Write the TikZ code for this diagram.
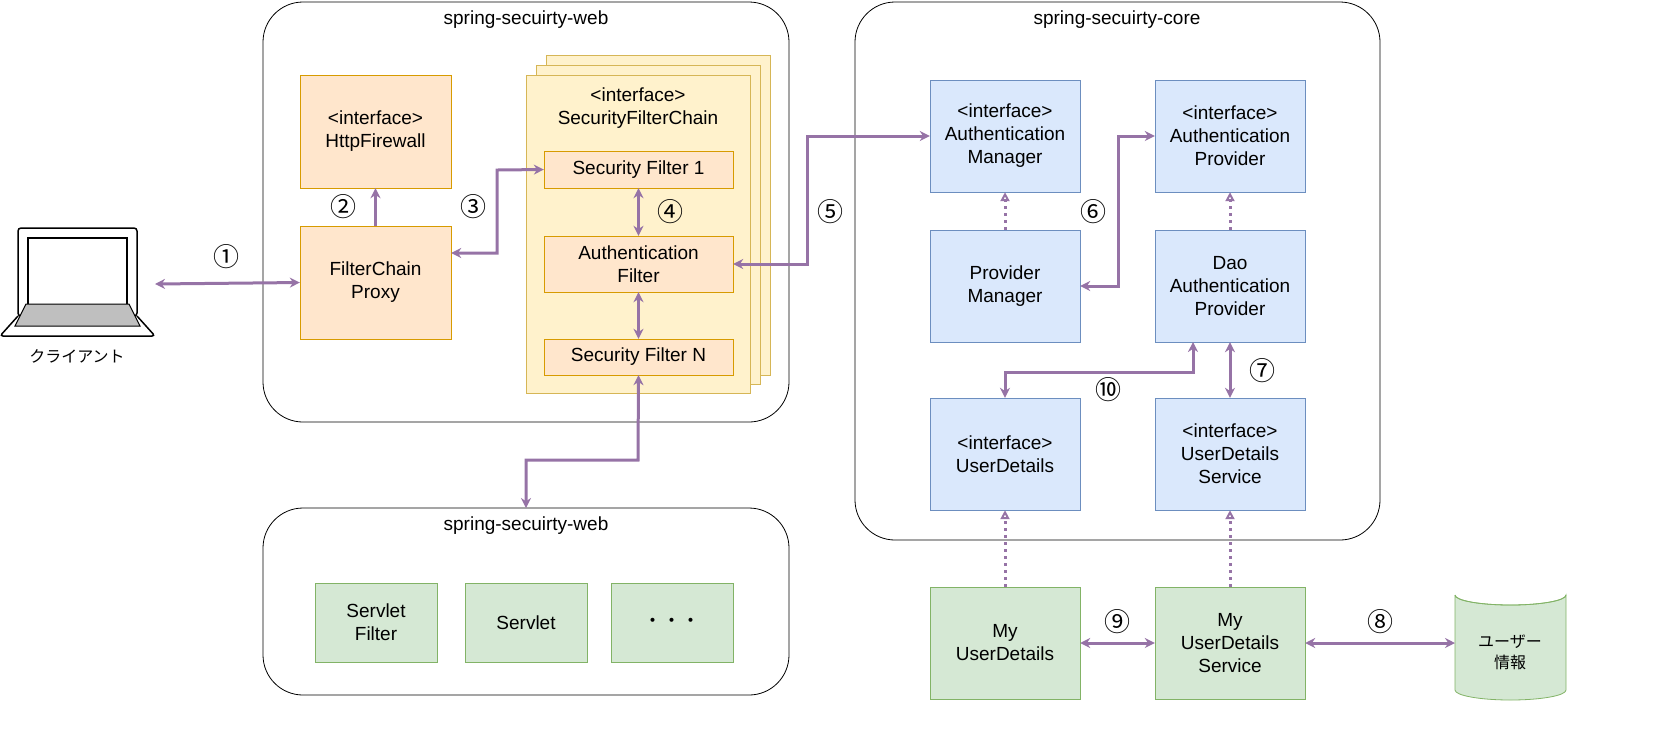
\documentclass[tikz,border=0pt]{standalone}
\usepackage{fontspec}
\setmainfont{Liberation Sans}
\newfontfamily\cjk{Noto Sans CJK JP}
\usetikzlibrary{arrows.meta}
\definecolor{org}{HTML}{FFE6CC}\definecolor{orgd}{HTML}{D79B00}
\definecolor{yel}{HTML}{FFF2CC}\definecolor{yeld}{HTML}{D6B656}
\definecolor{blu}{HTML}{DAE8FC}\definecolor{blud}{HTML}{6C8EBF}
\definecolor{grn}{HTML}{D5E8D4}\definecolor{grnd}{HTML}{82B366}
\definecolor{pur}{HTML}{9673A6}
\begin{document}
\begin{tikzpicture}[x=1pt,y=-1pt,scale=0.5,transform shape,
  txt/.style={font=\fontsize{19}{23}\selectfont,align=center},
  box/.style={txt,draw,line width=0.4pt,inner sep=0pt},
  ob/.style={box,fill=org,draw=orgd},
  bb/.style={box,fill=blu,draw=blud},
  gb/.style={box,fill=grn,draw=grnd},
  grp/.style={draw,line width=0.4pt,rounded corners=20pt},
  arr/.style={draw=pur,line width=1.5pt,{Stealth[length=5pt,width=5pt]}-{Stealth[length=5pt,width=5pt]}},
  one/.style={draw=pur,line width=1.5pt,-{Stealth[length=5pt,width=5pt]}},
  inh/.style={draw=pur,line width=1.5pt,dotted,-{Triangle[open,length=4.5pt,width=4.5pt,line width=1pt]}},
  num/.style={font=\cjk\fontsize{26}{26}\selectfont}]
\useasboundingbox (0,0) rectangle (1671,752);
% groups
\draw[grp] (263,2) rectangle (789,422);
\node[txt] (t1) at (526,20) {spring-secuirty-web};
\draw[grp] (263,508) rectangle (789,695);
\node[txt] (t2) at (526,526) {spring-secuirty-web};
\draw[grp] (855,2) rectangle (1380,540);
\node[txt] (t3) at (1117,20) {spring-secuirty-core};
% laptop
\draw[line width=0.75pt,rounded corners=1.5pt] (18,228) rectangle (137,316);
\draw[line width=0.75pt] (28,238) rectangle (127,305);
\draw[line width=0.75pt,rounded corners=1.5pt] (18,316) -- (0,336) -- (155,336) -- (137,316);
\draw[line width=0.5pt,fill=gray!50] (26,304) -- (129,304) -- (140,326) -- (15,326) -- cycle;
\coordinate (lap) at (155,284);
\node[font=\cjk\fontsize{16}{16}\selectfont] (cl) at (77,356) {クライアント};
% web boxes
\node[ob,minimum width=151pt,minimum height=113pt] (fw) at (375.5,131.5) {<interface>\\HttpFirewall};
\node[ob,minimum width=151pt,minimum height=113pt] (fcp) at (375.5,282.5) {FilterChain\\Proxy};
\draw[fill=yel,draw=yeld,line width=0.4pt] (546,55) rectangle (770,375);
\draw[fill=yel,draw=yeld,line width=0.4pt] (536,65) rectangle (760,384);
\node[fill=yel,draw=yeld,line width=0.4pt,minimum width=224pt,minimum height=318pt,inner sep=0pt] (sfc) at (638,234) {};
\node[txt] (sfct) at (638,108) {<interface>\\SecurityFilterChain};
\node[ob,minimum width=189pt,minimum height=37pt] (sf1) at (638.5,169.5) {Security Filter 1};
\node[ob,minimum width=189pt,minimum height=56pt] (af) at (638.5,264) {Authentication\\Filter};
\node[ob,minimum width=189pt,minimum height=36pt] (sfn) at (638.5,357) {Security Filter N};
\node[gb,minimum width=122pt,minimum height=79pt] (s1) at (376,622.5) {Servlet\\Filter};
\node[gb,minimum width=122pt,minimum height=79pt] (s2) at (526,622.5) {Servlet};
\node[gb,minimum width=122pt,minimum height=79pt,font=\cjk\fontsize{19}{23}\selectfont] (s3) at (672,622.5) {・・・};
% core boxes
\tikzset{cb/.style={bb,minimum width=150pt,minimum height=112pt}}
\node[cb] (am) at (1005,136) {<interface>\\Authentication\\Manager};
\node[cb] (ap) at (1230,136) {<interface>\\Authentication\\Provider};
\node[cb] (pm) at (1005,286) {Provider\\Manager};
\node[cb] (dao) at (1230,286) {Dao\\Authentication\\Provider};
\node[cb] (ud) at (1005,454) {<interface>\\UserDetails};
\node[cb] (uds) at (1230,454) {<interface>\\UserDetails\\Service};
\node[gb,minimum width=150pt,minimum height=112pt] (mud) at (1005,643) {My\\UserDetails};
\node[gb,minimum width=150pt,minimum height=112pt] (muds) at (1230,643) {My\\UserDetails\\Service};
% cylinder
\draw[fill=grn,draw=grnd,line width=0.4pt] (1455,595) -- (1455,690) arc[start angle=180,end angle=360,x radius=55.5pt,y radius=10pt] -- (1566,595) arc[start angle=0,end angle=-180,x radius=55.5pt,y radius=10pt];
\draw[draw=grnd,line width=0.4pt] (1455,595) arc[start angle=180,end angle=360,x radius=55.5pt,y radius=10pt];
\node[font=\cjk\fontsize{16}{21}\selectfont,align=center] (db) at (1510,652) {ユーザー\\情報};
\coordinate (dbl) at (1455,643);
% connectors
\draw[arr] (lap) -- (fcp.west);
\draw[one] (fcp.north) -- (fw.south);
\draw[arr] (fcp.east |- 0,253) -- (497,253) -- (497,170) -- (sf1.west);
\draw[arr] (sf1.south) -- (af.north);
\draw[arr] (af.south) -- (sfn.north);
\draw[arr] (af.east) -- (807,264) -- (807,136) -- (am.west);
\draw[arr] (sfn.south) -- (638,460) -- (526,460) -- (526,508);
\draw[arr] (pm.east) -- (1118,286) -- (1118,136) -- (ap.west);
\draw[inh] (pm.north) -- (am.south);
\draw[inh] (dao.north) -- (ap.south);
\draw[arr] (dao.south) -- (uds.north);
\draw[arr] (1193,342) -- (1193,372) -- (1005,372) -- (ud.north);
\draw[inh] (mud.north) -- (ud.south);
\draw[inh] (muds.north) -- (uds.south);
\draw[arr] (mud.east) -- (muds.west);
\draw[arr] (muds.east) -- (dbl);
% numbers
\node[num] (n1) at (226,257) {①};
\node[num] (n2) at (343,207) {②};
\node[num] (n3) at (473,207) {③};
\node[num] (n4) at (670,212) {④};
\node[num] (n5) at (830,212) {⑤};
\node[num] (n6) at (1093,212) {⑥};
\node[num] (n7) at (1262,371) {⑦};
\node[num] (n10) at (1108,390) {⑩};
\node[num] (n9) at (1117,622) {⑨};
\node[num] (n8) at (1380,622) {⑧};
\end{tikzpicture}
\end{document}
